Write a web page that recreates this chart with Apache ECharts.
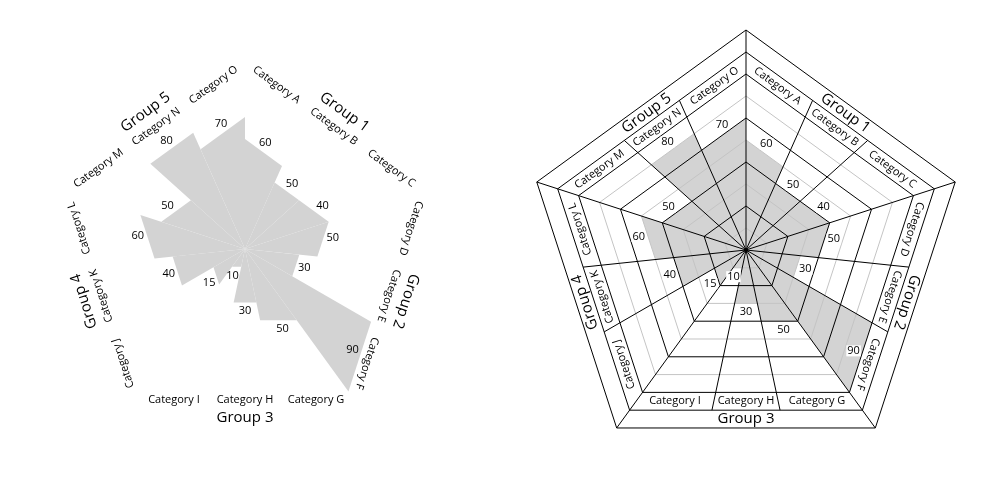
<!DOCTYPE html>
<html>
<head>
<meta charset="utf-8">
<script src="https://cdn.jsdelivr.net/npm/echarts@6.0.0/dist/echarts.min.js"></script>
<style>html,body{margin:0;padding:0;background:#fff}#c{width:1000px;height:500px}</style>
</head>
<body>
<div id="c"></div>
<script>
// ---------- data ----------
const categories = ['Category A','Category B','Category C','Category D','Category E','Category F','Category G','Category H','Category I','Category J','Category K','Category L','Category M','Category N','Category O'];
const groups = ['Group 1','Group 2','Group 3','Group 4','Group 5'];
const values = [60, 50, 40, 50, 30, 90, 50, 30, 10, 15, 40, 60, 50, 80, 70];
const radialMax = 100;     // radial axis maximum (outer data pentagon)
const radialStep = 12.5;   // grid step of the radial axis

// ---------- helpers ----------
const FONT = '"Open Sans", "Noto Sans", sans-serif';
const N = categories.length, G = groups.length;
const SEC = 360 / N, GSEC = 360 / G, HALF = GSEC / 2;
const NLEV = radialMax / radialStep;
const rad = d => d * Math.PI / 180;

function edgeR(level, deg) {
  const d = ((deg % 360) + 360) % 360;
  const phi = HALF + GSEC * Math.floor(d / GSEC + 1e-9);
  return level * Math.cos(rad(HALF)) / Math.cos(rad(deg - phi));
}
function pt(api, r, deg) { return api.coord([r * Math.sin(rad(deg)), r * Math.cos(rad(deg))]); }
function edgePt(api, level, deg) { return pt(api, edgeR(level, deg), deg); }
function mid(a, b) { return [(a[0] + b[0]) / 2, (a[1] + b[1]) / 2]; }
function textRot(phi) { return Math.abs(phi - 180) < 45 ? 0 : -rad(phi); }

function renderFill(params, api) {
  const i = api.value(0), v = api.value(1);
  const lvl = Math.ceil(v / radialStep) * radialStep;
  const c = pt(api, 0, 0), a = edgePt(api, lvl, i * SEC), b = edgePt(api, lvl, (i + 1) * SEC);
  return { type: 'polygon', shape: { points: [c, a, b] }, style: { fill: '#d3d3d3' } };
}

function makeValueLabel(boxed) {
  return function (params, api) {
    const i = api.value(0), v = api.value(1);
    const steps = Math.min(Math.ceil(v / radialStep) + 0.5, NLEV - 0.5);
    const lvl = steps * radialStep;
    const p = mid(edgePt(api, lvl, i * SEC), edgePt(api, lvl, (i + 1) * SEC));
    const style = { text: String(v), fontSize: 11, fontFamily: FONT, fill: '#000', align: 'center', verticalAlign: 'middle' };
    if (boxed) { style.backgroundColor = '#fff'; style.padding = [0, 1]; }
    return { type: 'text', x: p[0], y: p[1], style: style };
  };
}

function makeFrame(withLines) {
  return function (params, api) {
    const children = [];
    const c = pt(api, 0, 0);
    if (withLines) {
      for (let k = 1; k <= NLEV + 2; k++) {
        const L = k * radialStep, pts = [];
        for (let g = 0; g <= G; g++) pts.push(pt(api, L, g * GSEC));
        children.push({ type: 'polyline', shape: { points: pts },
          style: { stroke: (k < NLEV && k % 2 === 1) ? '#c4c4c4' : '#000', lineWidth: 1, fill: null } });
      }
      for (let j = 0; j < N; j++) {
        const deg = j * SEC;
        const isVertex = Math.abs(deg % GSEC) < 1e-6;
        const p = edgePt(api, (NLEV + (isVertex ? 2 : 1)) * radialStep, deg);
        children.push({ type: 'line', shape: { x1: c[0], y1: c[1], x2: p[0], y2: p[1] }, style: { stroke: '#000', lineWidth: 1 } });
      }
      children.push({ type: 'circle', shape: { cx: c[0], cy: c[1], r: 2 }, style: { fill: '#000' } });
    }
    // category labels
    for (let i = 0; i < N; i++) {
      const lvl = (NLEV + 0.5) * radialStep;
      const p = mid(edgePt(api, lvl, i * SEC), edgePt(api, lvl, (i + 1) * SEC));
      const phi = HALF + GSEC * Math.floor(i * SEC / GSEC + 1e-9);
      children.push({ type: 'text', x: p[0], y: p[1], rotation: textRot(phi),
        style: { text: categories[i], fontSize: 11, fontFamily: FONT, fill: '#000', align: 'center', verticalAlign: 'middle' } });
    }
    // group labels
    for (let g = 0; g < G; g++) {
      const phi = HALF + GSEC * g;
      const p = edgePt(api, (NLEV + 1.5) * radialStep, phi);
      children.push({ type: 'text', x: p[0], y: p[1], rotation: textRot(phi),
        style: { text: groups[g], fontSize: 15, fontFamily: FONT, fill: '#000', align: 'center', verticalAlign: 'middle' } });
    }
    return { type: 'group', children: children };
  };
}

const seriesData = values.map((v, i) => [i, v]);
const S = 457.6;
const axisBase = { type: 'value', min: -130, max: 130, show: false };

const option = {
  animation: false,
  grid: [
    { left: 245 - S / 2, top: 249 - S / 2, width: S, height: S },
    { left: 746 - S / 2, top: 250 - S / 2, width: S, height: S }
  ],
  xAxis: [Object.assign({ gridIndex: 0 }, axisBase), Object.assign({ gridIndex: 1 }, axisBase)],
  yAxis: [Object.assign({ gridIndex: 0 }, axisBase), Object.assign({ gridIndex: 1 }, axisBase)],
  series: [
    { type: 'custom', xAxisIndex: 0, yAxisIndex: 0, z: 1, renderItem: renderFill, data: seriesData },
    { type: 'custom', xAxisIndex: 0, yAxisIndex: 0, z: 3, renderItem: makeFrame(false), data: [[0, 0]] },
    { type: 'custom', xAxisIndex: 0, yAxisIndex: 0, z: 4, renderItem: makeValueLabel(false), data: seriesData },
    { type: 'custom', xAxisIndex: 1, yAxisIndex: 1, z: 1, renderItem: renderFill, data: seriesData },
    { type: 'custom', xAxisIndex: 1, yAxisIndex: 1, z: 3, renderItem: makeFrame(true), data: [[0, 0]] },
    { type: 'custom', xAxisIndex: 1, yAxisIndex: 1, z: 4, renderItem: makeValueLabel(true), data: seriesData }
  ]
};

const chart = echarts.init(document.getElementById('c'), null, { renderer: 'canvas' });
chart.setOption(option);
</script>
</body>
</html>
